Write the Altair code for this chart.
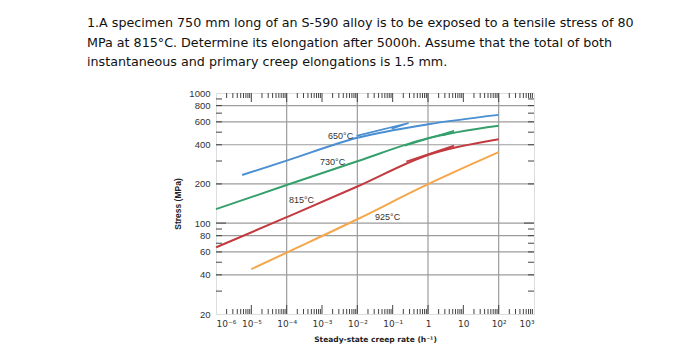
import altair as alt
import pandas as pd

# ---------------- data ----------------
temps = ["650°C", "730°C", "815°C", "925°C"]
colors = ["#4a8fd2", "#35a06c", "#c23a3f", "#f5a64a"]

rate_650 = [5.5e-6, 1e-4, 1e-2, 1, 1e2]
stress_650 = [234, 302, 453, 575, 679]
rate_730 = [1e-6, 1e-4, 1e-2, 1, 1e2]
stress_730 = [128, 196, 299, 450, 561]
rate_815 = [1e-6, 1e-4, 1e-2, 1, 1e2]
stress_815 = [65, 111, 191, 334, 441]
rate_925 = [1e-5, 1e-4, 1e-2, 1, 1e2]
stress_925 = [44.2, 59.3, 107, 199, 351]

# small leader marks drawn next to the curves
lead_rate_650 = [9.5e-3, 0.284, 0.094]
lead_stress_650 = [468, 589, 530]
lead_rate_730 = [0.219, 5.46, 2.66]
lead_stress_730 = [394, 512, 471]
lead_rate_815 = [0.244, 5.46, 2.97]
lead_stress_815 = [297, 394, 366]

label_rate = [3.37e-3, 2.0e-3, 2.64e-4, 0.0722]
label_stress = [468, 295, 151, 111]

x_label_vals = [1e-6, 1e-5, 1e-4, 1e-3, 1e-2, 1e-1, 1, 10, 1e2, 1e3]
x_label_text = ["10⁻⁶", "10⁻⁵", "10⁻⁴", "10⁻³", "10⁻²", "10⁻¹", "1", "10", "10²", "10³"]
y_label_vals = [20, 40, 60, 80, 100, 200, 400, 600, 800, 1000]

x_grid = [1e-4, 1e-2, 1, 1e2]
y_grid = [40, 60, 80, 100, 200, 400, 600, 800]

x_major = [1e-5, 1e-4, 1e-3, 1e-2, 1e-1, 1, 10, 1e2]
x_minor = [k * 10.0 ** d for d in range(-6, 3) for k in range(2, 10)]
y_major = [100]
y_minor = [30, 40, 50, 60, 70, 80, 90, 200, 300, 400, 500, 600, 700, 800, 900]

question = [
    "1.A specimen 750 mm long of an S-590 alloy is to be exposed to a tensile stress of 80",
    "MPa at 815°C. Determine its elongation after 5000h. Assume that the total of both",
    "instantaneous and primary creep elongations is 1.5 mm.",
]

# ---------------- tables ----------------
rows = []
for t, rr, ss in [("650°C", rate_650, stress_650), ("730°C", rate_730, stress_730),
                  ("815°C", rate_815, stress_815), ("925°C", rate_925, stress_925)]:
    for i, (r, s) in enumerate(zip(rr, ss)):
        rows.append({"temp": t, "rate": r, "stress": s, "i": i})
curves = pd.DataFrame(rows)

lrows = []
for t, rr, ss in [("650°C", lead_rate_650, lead_stress_650), ("730°C", lead_rate_730, lead_stress_730),
                  ("815°C", lead_rate_815, lead_stress_815)]:
    for i, (r, s) in enumerate(zip(rr, ss)):
        lrows.append({"temp": t, "rate": r, "stress": s, "i": i})
leaders = pd.DataFrame(lrows)

labels = pd.DataFrame({"temp": temps, "rate": label_rate, "stress": label_stress})

W, H = 318, 221
xs = alt.Scale(type="log", domain=[1e-6, 1e3], nice=False)
ys = alt.Scale(type="log", domain=[20, 1000], nice=False)
cs = alt.Scale(domain=temps, range=colors)

expr = ""
for v, t in zip(x_label_vals, x_label_text):
    expr += f"datum.value < {v * 1.5} ? '{t}' : "
expr += "''"

label_font = "Liberation Sans"

xgrid = alt.Chart(pd.DataFrame({"rate": x_grid})).mark_rule(color="#9c9c9c", strokeWidth=1.2).encode(
    x=alt.X("rate:Q", scale=xs,
            axis=alt.Axis(values=x_label_vals, labelExpr=expr, ticks=False, domain=False, grid=False,
                          labelFontSize=9, labelColor="#333", labelFont="DejaVu Sans", labelPadding=5,
                          title="Steady-state creep rate (h⁻¹)", titleFontSize=7.5, titleFont="DejaVu Sans",
                          titleFontWeight="bold", titleColor="#222", titlePadding=7))
)
ygrid = alt.Chart(pd.DataFrame({"stress": y_grid})).mark_rule(color="#9c9c9c", strokeWidth=1.2).encode(
    y=alt.Y("stress:Q", scale=ys,
            axis=alt.Axis(values=y_label_vals, format="d", ticks=False, domain=False, grid=False,
                          labelFontSize=9.5, labelColor="#333", labelFont=label_font, labelPadding=6,
                          title="Stress (MPa)", titleFontSize=8.5, titleFont=label_font,
                          titleFontWeight="bold", titleColor="#222", titlePadding=6))
)

tick_color = "#444"
def xticks(vals, length):
    d = pd.DataFrame({"rate": vals})
    b = alt.Chart(d).mark_rule(color=tick_color, strokeWidth=1).encode(
        x=alt.X("rate:Q", scale=xs), y=alt.value(H), y2=alt.value(H - length))
    t = alt.Chart(d).mark_rule(color=tick_color, strokeWidth=1).encode(
        x=alt.X("rate:Q", scale=xs), y=alt.value(0), y2=alt.value(length))
    return [b, t]

def yticks(vals, length):
    d = pd.DataFrame({"stress": vals})
    l = alt.Chart(d).mark_rule(color=tick_color, strokeWidth=1).encode(
        y=alt.Y("stress:Q", scale=ys), x=alt.value(0), x2=alt.value(length))
    r = alt.Chart(d).mark_rule(color=tick_color, strokeWidth=1).encode(
        y=alt.Y("stress:Q", scale=ys), x=alt.value(W), x2=alt.value(W - length))
    return [l, r]

tick_layers = xticks(x_major, 9) + xticks(x_minor, 5) + yticks(y_major, 10) + yticks(y_minor, 6)

lines = alt.Chart(curves).mark_line(strokeWidth=2, interpolate="monotone").encode(
    x=alt.X("rate:Q", scale=xs), y=alt.Y("stress:Q", scale=ys),
    color=alt.Color("temp:N", scale=cs, legend=None), order="i:Q")

lead = alt.Chart(leaders).mark_line(strokeWidth=1.6).encode(
    x=alt.X("rate:Q", scale=xs), y=alt.Y("stress:Q", scale=ys),
    color=alt.Color("temp:N", scale=cs, legend=None), order="i:Q")

text = alt.Chart(labels).mark_text(fontSize=9, color="#333", font=label_font).encode(
    x=alt.X("rate:Q", scale=xs), y=alt.Y("stress:Q", scale=ys), text="temp:N")

chart = alt.layer(xgrid, ygrid, *tick_layers, lines, lead, text).properties(
    width=W, height=H,
    autosize=alt.AutoSizeParams(type="none"),
    padding={"left": 208, "top": 85, "right": 158, "bottom": 38},
    title=alt.TitleParams(text=question, anchor="start", frame="group", dx=-129, fontSize=12.7,
                          font="DejaVu Sans", fontWeight="normal", color="#111", lineHeight=19.5,
                          offset=19),
).configure_view(stroke="#444", strokeWidth=1.5).configure(background="white")

chart.save("out.html", embed_options={"renderer": "svg", "actions": False})
